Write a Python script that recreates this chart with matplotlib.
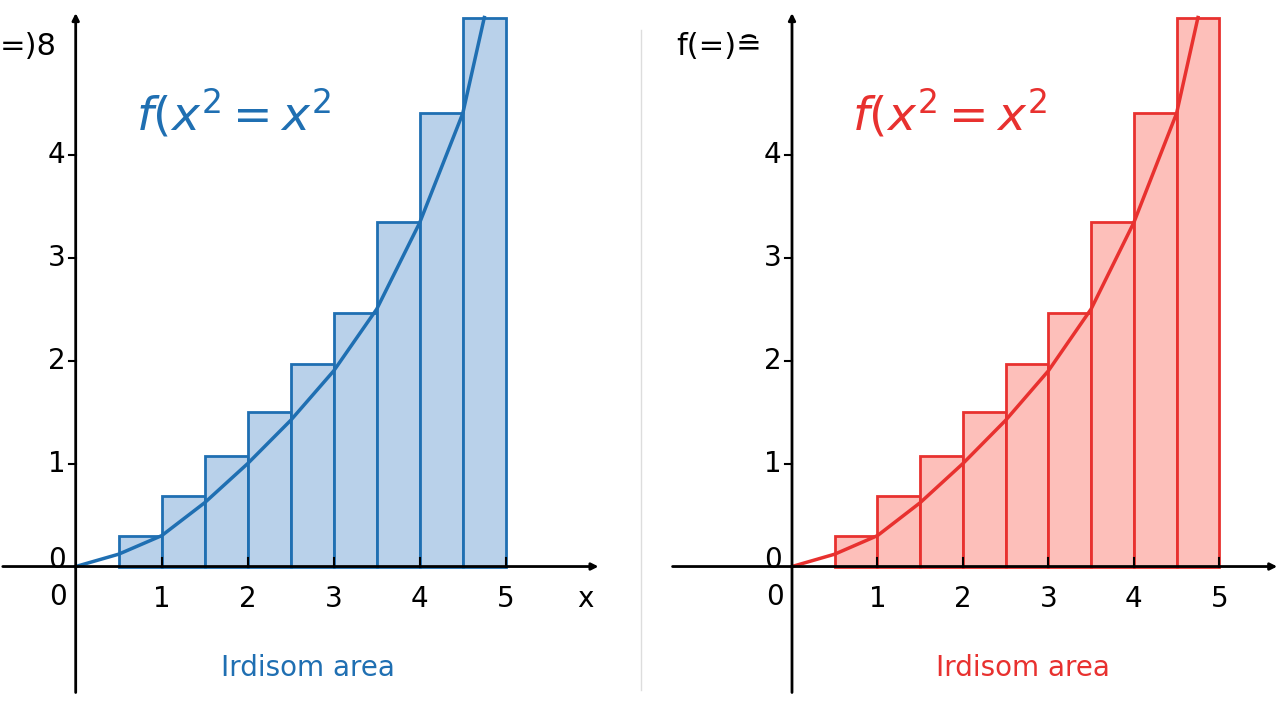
import matplotlib.pyplot as plt

# bar data (left edges, width 0.5)
bar_left = [0.5, 1.0, 1.5, 2.0, 2.5, 3.0, 3.5, 4.0, 4.5]
bar_height = [0.30, 0.68, 1.07, 1.50, 1.97, 2.46, 3.34, 4.40, 5.33]
curve_x = [0, 0.5, 1, 1.5, 2, 2.5, 3, 3.5, 4, 4.5, 4.75]
curve_y = [0, 0.12, 0.30, 0.62, 1.0, 1.42, 1.90, 2.50, 3.34, 4.40, 5.33]
xticks = [1, 2, 3, 4, 5]
yticks = [1, 2, 3, 4]

fig = plt.figure(figsize=(12.8, 7.2), dpi=100)
fig.patch.set_facecolor('white')

panels = [
    dict(rect=[0, 0, 640 / 1280, 1], xlim=(-0.88, 6.56), line='#1f6fb2', fill='#b9d1ea',
         corner='=)8', corner_x=-0.88, show_x=True, axis_start=-0.88),
    dict(rect=[645 / 1280, 0, 635 / 1280, 1], xlim=(-1.72, 5.71), line='#e8312f', fill='#fdbfba',
         corner='f(=)≘', corner_x=-1.35, show_x=False, axis_start=-1.43),
]

for p in panels:
    ax = fig.add_axes(p['rect'])
    ax.set_xlim(*p['xlim'])
    ax.set_ylim(-1.49, 5.5)
    ax.axis('off')
    ax.bar(bar_left, bar_height, width=0.5, align='edge', color=p['fill'],
           edgecolor=p['line'], linewidth=2, zorder=2)
    ax.plot(curve_x, curve_y, color=p['line'], lw=2.5, zorder=3)
    # axes with arrows
    ax.annotate('', xy=(p['xlim'][1] - 0.45 if p['show_x'] else p['xlim'][1], 0), xytext=(p['axis_start'], 0),
                arrowprops=dict(arrowstyle='-|>', color='black', lw=2), zorder=4)
    ax.annotate('', xy=(0, 5.4), xytext=(0, -1.25),
                arrowprops=dict(arrowstyle='-|>', color='black', lw=2), zorder=4)
    for t in xticks:
        ax.plot([t, t], [0, 0.08], color='black', lw=1.5, zorder=4)
        ax.text(t, -0.18, str(t), ha='center', va='top', fontsize=20)
    for t in yticks:
        ax.plot([-0.08, 0], [t, t], color='black', lw=1.5, zorder=4)
        ax.text(-0.12, t, str(t), ha='right', va='center', fontsize=20)
    ax.text(-0.12, 0.06, '0', ha='right', va='center', fontsize=20)
    ax.text(-0.2, -0.3, '0', ha='center', va='center', fontsize=20)
    ax.text(p['corner_x'], 5.05, p['corner'], ha='left', va='center', fontsize=22)
    ax.text(0.7, 4.4, r'$f(x^2 = x^2$', color=p['line'], fontsize=34,
            ha='left', va='center', family='DejaVu Serif')
    ax.text(2.7, -0.99, 'Ιrdisom area', color=p['line'], fontsize=20, ha='center', va='center')
    if p['show_x']:
        ax.text(5.93, -0.32, 'x', fontsize=20, ha='center', va='center')

fig.add_artist(plt.Line2D([641 / 1280, 641 / 1280], [30 / 720, 690 / 720], color='#dddddd', lw=1))
fig.savefig('out.png', dpi=100)
